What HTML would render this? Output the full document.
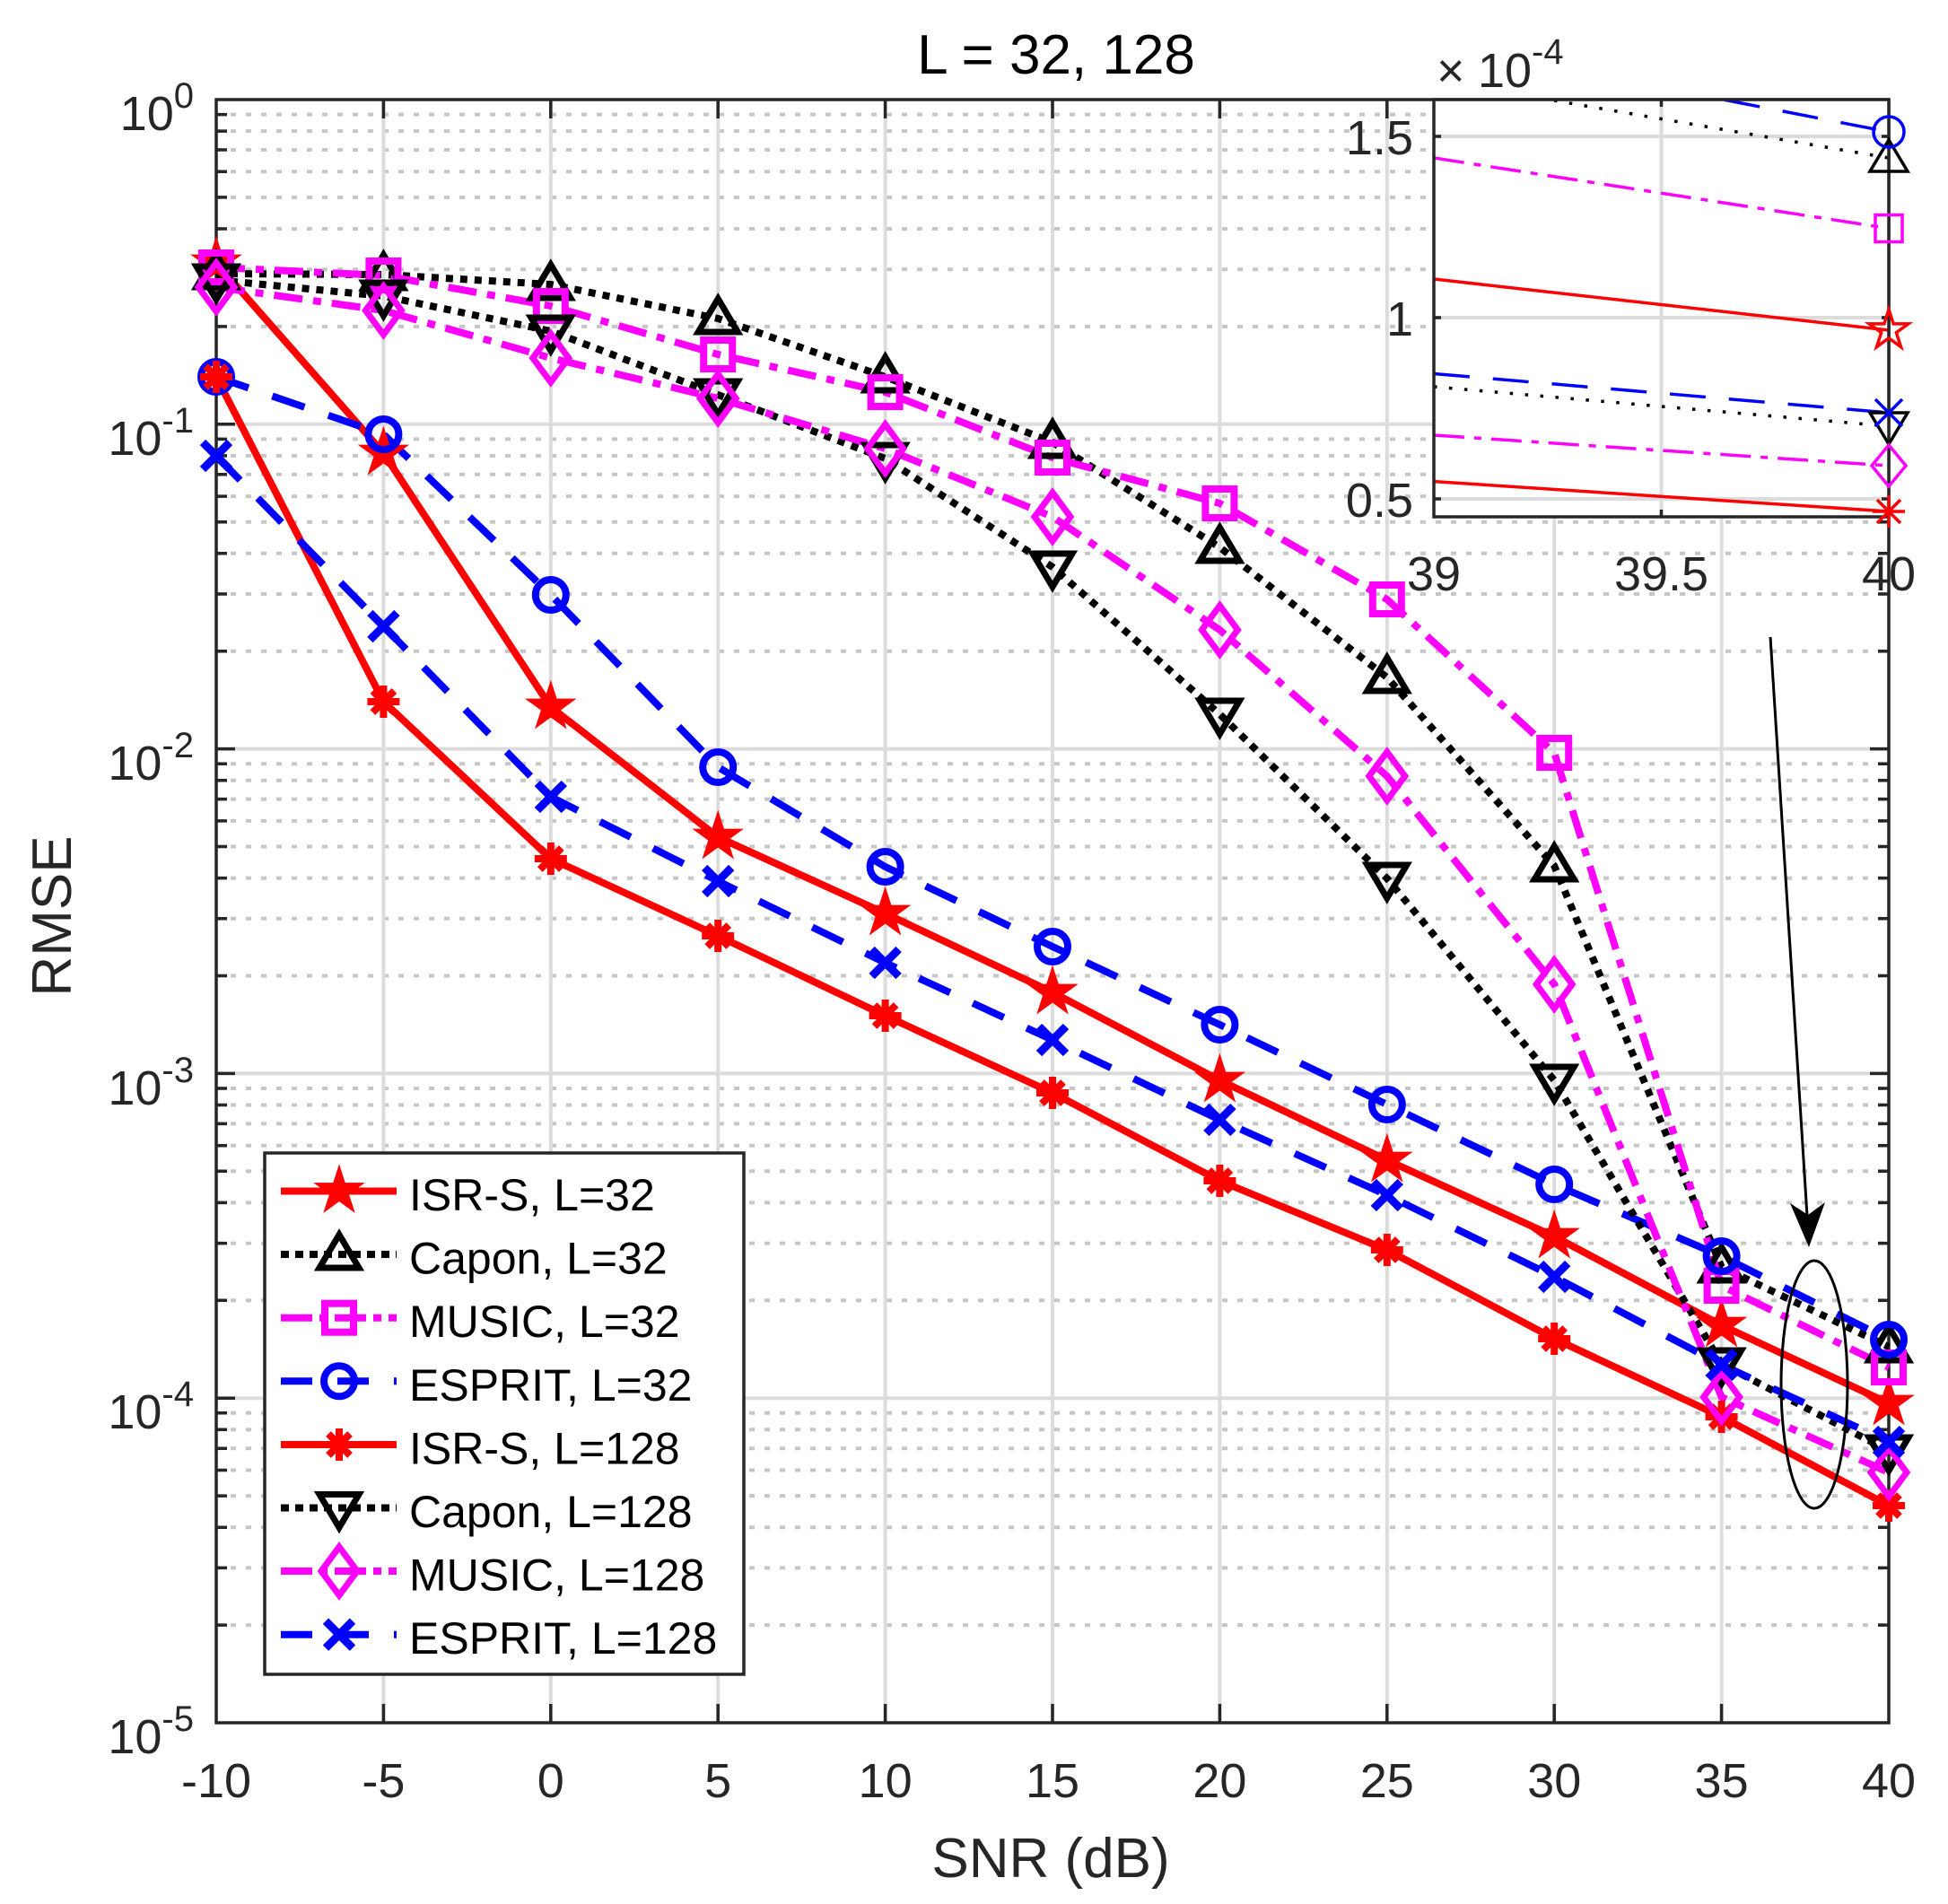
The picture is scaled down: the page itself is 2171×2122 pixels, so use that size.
<!DOCTYPE html>
<html><head><meta charset="utf-8"><style>
html,body{margin:0;padding:0;background:#fff;}
svg{display:block;}
text{font-family:"Liberation Sans",Arial,sans-serif;}
</style></head><body>
<svg width="2171" height="2122" viewBox="0 0 2171 2122" xmlns="http://www.w3.org/2000/svg">
<defs>
<g id="mstar"><polygon points="0,-27 6.06,-8.34 25.68,-8.34 9.8,3.19 15.87,21.84 0,10.31 -15.87,21.84 -9.8,3.19 -25.68,-8.34 -6.06,-8.34" fill="#ff0000" stroke="#ff0000" stroke-width="2"/></g>
<g id="mtriu"><polygon points="0,-22 -22,15 22,15" fill="none" stroke="#000" stroke-width="7"/></g>
<g id="mtrid"><polygon points="0,22 -22,-15 22,-15" fill="none" stroke="#000" stroke-width="7"/></g>
<g id="msq"><rect x="-16" y="-16" width="32" height="32" fill="none" stroke="#ff00ff" stroke-width="8"/></g>
<g id="mcir"><circle r="17" fill="none" stroke="#0000ff" stroke-width="8"/></g>
<g id="mast" stroke="#ff0000" stroke-width="8"><line x1="0" y1="-18" x2="0" y2="18"/><line x1="-18" y1="0" x2="18" y2="0"/><line x1="-12" y1="-12" x2="12" y2="12"/><line x1="-12" y1="12" x2="12" y2="-12"/></g>
<g id="mdia"><polygon points="0,-27 20,0 0,27 -20,0" fill="none" stroke="#ff00ff" stroke-width="7"/></g>
<g id="mx" stroke="#0000ff" stroke-width="9"><line x1="-15" y1="-15" x2="15" y2="15"/><line x1="-15" y1="15" x2="15" y2="-15"/></g>

<g id="istar"><polygon points="0,-23 5.16,-7.11 21.87,-7.11 8.35,2.72 13.52,18.61 0,8.78 -13.52,18.61 -8.35,2.72 -21.87,-7.11 -5.16,-7.11" fill="none" stroke="#ff0000" stroke-width="3.5"/></g>
<g id="itriu"><polygon points="0,-20 -21,15 21,15" fill="none" stroke="#000" stroke-width="3.5"/></g>
<g id="itrid"><polygon points="0,20 -21,-15 21,-15" fill="none" stroke="#000" stroke-width="3.5"/></g>
<g id="isq"><rect x="-15" y="-15" width="30" height="30" fill="none" stroke="#ff00ff" stroke-width="3.5"/></g>
<g id="icir"><circle r="17" fill="none" stroke="#0000ff" stroke-width="3.5"/></g>
<g id="iast" stroke="#ff0000" stroke-width="3.5"><line x1="0" y1="-18" x2="0" y2="18"/><line x1="-18" y1="0" x2="18" y2="0"/><line x1="-13" y1="-13" x2="13" y2="13"/><line x1="-13" y1="13" x2="13" y2="-13"/></g>
<g id="idia"><polygon points="0,-23 19,0 0,23 -19,0" fill="none" stroke="#ff00ff" stroke-width="3.5"/></g>
<g id="ix" stroke="#0000ff" stroke-width="3.5"><line x1="-15" y1="-15" x2="15" y2="15"/><line x1="-15" y1="15" x2="15" y2="-15"/></g>
<clipPath id="insetclip"><rect x="1598" y="111" width="507" height="465"/></clipPath>
</defs>

<rect width="2171" height="2122" fill="#fff"/>

<!-- minor grid -->
<g stroke="#c6c6c6" stroke-width="4" stroke-dasharray="6 11" stroke-dashoffset="1" fill="none">
<path d="M241 127.6H2105M241 146.1H2105M241 167H2105M241 191.3H2105M241 219.9H2105M241 255H2105M241 300.2H2105M241 363.9H2105
M241 489.4H2105M241 507.9H2105M241 528.8H2105M241 553.1H2105M241 581.7H2105M241 616.8H2105M241 662H2105M241 725.7H2105
M241 851.2H2105M241 869.7H2105M241 890.6H2105M241 914.9H2105M241 943.5H2105M241 978.6H2105M241 1023.8H2105M241 1087.5H2105
M241 1213H2105M241 1231.5H2105M241 1252.4H2105M241 1276.7H2105M241 1305.3H2105M241 1340.4H2105M241 1385.6H2105M241 1449.3H2105
M241 1574.8H2105M241 1593.3H2105M241 1614.2H2105M241 1638.5H2105M241 1667.1H2105M241 1702.2H2105M241 1747.4H2105M241 1811.1H2105"/>
</g>
<!-- major grid -->
<g stroke="#dcdcdc" stroke-width="4" fill="none">
<path d="M427.4 111V1920M613.8 111V1920M800.2 111V1920M986.6 111V1920M1173 111V1920M1359.4 111V1920M1545.8 111V1920M1732.2 111V1920M1918.6 111V1920"/>
<path d="M241 472.8H2105M241 834.6H2105M241 1196.4H2105M241 1558.2H2105"/>
</g>

<!-- axes box & ticks -->
<g stroke="#262626" stroke-width="3.5" fill="none">
<rect x="241" y="111" width="1864" height="1809"/>
<path d="M241 472.8h21M241 834.6h21M241 1196.4h21M241 1558.2h21M2105 472.8h-21M2105 834.6h-21M2105 1196.4h-21M2105 1558.2h-21"/>
<path d="M427.4 1920v-21M613.8 1920v-21M800.2 1920v-21M986.6 1920v-21M1173 1920v-21M1359.4 1920v-21M1545.8 1920v-21M1732.2 1920v-21M1918.6 1920v-21
M427.4 111v21M613.8 111v21M800.2 111v21M986.6 111v21M1173 111v21M1359.4 111v21M1545.8 111v21M1732.2 111v21M1918.6 111v21"/>
<path d="M241 127.6h12M241 146.1h12M241 167h12M241 191.3h12M241 219.9h12M241 255h12M241 300.2h12M241 363.9h12
M241 489.4h12M241 507.9h12M241 528.8h12M241 553.1h12M241 581.7h12M241 616.8h12M241 662h12M241 725.7h12
M241 851.2h12M241 869.7h12M241 890.6h12M241 914.9h12M241 943.5h12M241 978.6h12M241 1023.8h12M241 1087.5h12
M241 1213h12M241 1231.5h12M241 1252.4h12M241 1276.7h12M241 1305.3h12M241 1340.4h12M241 1385.6h12M241 1449.3h12
M241 1574.8h12M241 1593.3h12M241 1614.2h12M241 1638.5h12M241 1667.1h12M241 1702.2h12M241 1747.4h12M241 1811.1h12
M2105 1213h-12M2105 1231.5h-12M2105 1252.4h-12M2105 1276.7h-12M2105 1305.3h-12M2105 1340.4h-12M2105 1385.6h-12M2105 1449.3h-12
M2105 1574.8h-12M2105 1593.3h-12M2105 1614.2h-12M2105 1638.5h-12M2105 1667.1h-12M2105 1702.2h-12M2105 1747.4h-12M2105 1811.1h-12
M2105 851.2h-12M2105 869.7h-12M2105 890.6h-12M2105 914.9h-12M2105 943.5h-12M2105 978.6h-12M2105 1023.8h-12M2105 1087.5h-12
M2105 489.4h-12M2105 507.9h-12M2105 528.8h-12M2105 553.1h-12M2105 581.7h-12M2105 616.8h-12M2105 662h-12M2105 725.7h-12"/>
</g>

<!-- series lines -->
<g fill="none" stroke-width="8" stroke-linejoin="miter">
<polyline stroke="#ff0000" points="241,293 427.4,505 613.8,788 800.2,933 986.6,1018 1173,1106 1359.4,1204 1545.8,1293 1732.2,1378 1918.6,1477 2105,1564"/>
<polyline stroke="#000" stroke-dasharray="8 8" points="241,305 427.4,306 613.8,317 800.2,355 986.6,420 1173,493 1359.4,610 1545.8,755 1732.2,965 1918.6,1412 2105,1501"/>
<polyline stroke="#ff00ff" stroke-dasharray="32 12 9 12" points="241,298 427.4,307 613.8,341 800.2,395 986.6,437 1173,510 1359.4,561 1545.8,668 1732.2,839 1918.6,1433 2105,1524"/>
<polyline stroke="#0000ff" stroke-dasharray="38 28" points="241,420 427.4,484 613.8,663 800.2,855 986.6,966 1173,1055 1359.4,1142 1545.8,1231 1732.2,1320 1918.6,1400 2105,1493"/>
<polyline stroke="#ff0000" points="241,420 427.4,782 613.8,957 800.2,1043 986.6,1132 1173,1218 1359.4,1316 1545.8,1393 1732.2,1492 1918.6,1579 2105,1678"/>
<polyline stroke="#000" stroke-dasharray="8 8" points="241,312 427.4,330 613.8,369 800.2,440 986.6,511 1173,632 1359.4,796 1545.8,979 1732.2,1204 1918.6,1520 2105,1617"/>
<polyline stroke="#ff00ff" stroke-dasharray="32 12 9 12" points="241,320 427.4,346 613.8,399 800.2,444 986.6,500 1173,576 1359.4,702 1545.8,865 1732.2,1097 1918.6,1557 2105,1641"/>
<polyline stroke="#0000ff" stroke-dasharray="38 28" points="241,508 427.4,698 613.8,888 800.2,982 986.6,1073 1173,1159 1359.4,1248 1545.8,1332 1732.2,1423 1918.6,1521 2105,1607"/>
</g>

<!-- markers -->
<g>
<use href="#mstar" x="241" y="293"/><use href="#mstar" x="427.4" y="505"/><use href="#mstar" x="613.8" y="788"/><use href="#mstar" x="800.2" y="933"/><use href="#mstar" x="986.6" y="1018"/><use href="#mstar" x="1173" y="1106"/><use href="#mstar" x="1359.4" y="1204"/><use href="#mstar" x="1545.8" y="1293"/><use href="#mstar" x="1732.2" y="1378"/><use href="#mstar" x="1918.6" y="1477"/><use href="#mstar" x="2105" y="1564"/>
<use href="#mtriu" x="241" y="305"/><use href="#mtriu" x="427.4" y="306"/><use href="#mtriu" x="613.8" y="317"/><use href="#mtriu" x="800.2" y="355"/><use href="#mtriu" x="986.6" y="420"/><use href="#mtriu" x="1173" y="493"/><use href="#mtriu" x="1359.4" y="610"/><use href="#mtriu" x="1545.8" y="755"/><use href="#mtriu" x="1732.2" y="965"/><use href="#mtriu" x="1918.6" y="1412"/><use href="#mtriu" x="2105" y="1501"/>
<use href="#msq" x="241" y="298"/><use href="#msq" x="427.4" y="307"/><use href="#msq" x="613.8" y="341"/><use href="#msq" x="800.2" y="395"/><use href="#msq" x="986.6" y="437"/><use href="#msq" x="1173" y="510"/><use href="#msq" x="1359.4" y="561"/><use href="#msq" x="1545.8" y="668"/><use href="#msq" x="1732.2" y="839"/><use href="#msq" x="1918.6" y="1433"/><use href="#msq" x="2105" y="1524"/>
<use href="#mcir" x="241" y="420"/><use href="#mcir" x="427.4" y="484"/><use href="#mcir" x="613.8" y="663"/><use href="#mcir" x="800.2" y="855"/><use href="#mcir" x="986.6" y="966"/><use href="#mcir" x="1173" y="1055"/><use href="#mcir" x="1359.4" y="1142"/><use href="#mcir" x="1545.8" y="1231"/><use href="#mcir" x="1732.2" y="1320"/><use href="#mcir" x="1918.6" y="1400"/><use href="#mcir" x="2105" y="1493"/>
<use href="#mast" x="241" y="420"/><use href="#mast" x="427.4" y="782"/><use href="#mast" x="613.8" y="957"/><use href="#mast" x="800.2" y="1043"/><use href="#mast" x="986.6" y="1132"/><use href="#mast" x="1173" y="1218"/><use href="#mast" x="1359.4" y="1316"/><use href="#mast" x="1545.8" y="1393"/><use href="#mast" x="1732.2" y="1492"/><use href="#mast" x="1918.6" y="1579"/><use href="#mast" x="2105" y="1678"/>
<use href="#mtrid" x="241" y="312"/><use href="#mtrid" x="427.4" y="330"/><use href="#mtrid" x="613.8" y="369"/><use href="#mtrid" x="800.2" y="440"/><use href="#mtrid" x="986.6" y="511"/><use href="#mtrid" x="1173" y="632"/><use href="#mtrid" x="1359.4" y="796"/><use href="#mtrid" x="1545.8" y="979"/><use href="#mtrid" x="1732.2" y="1204"/><use href="#mtrid" x="1918.6" y="1520"/><use href="#mtrid" x="2105" y="1617"/>
<use href="#mdia" x="241" y="320"/><use href="#mdia" x="427.4" y="346"/><use href="#mdia" x="613.8" y="399"/><use href="#mdia" x="800.2" y="444"/><use href="#mdia" x="986.6" y="500"/><use href="#mdia" x="1173" y="576"/><use href="#mdia" x="1359.4" y="702"/><use href="#mdia" x="1545.8" y="865"/><use href="#mdia" x="1732.2" y="1097"/><use href="#mdia" x="1918.6" y="1557"/><use href="#mdia" x="2105" y="1641"/>
<use href="#mx" x="241" y="508"/><use href="#mx" x="427.4" y="698"/><use href="#mx" x="613.8" y="888"/><use href="#mx" x="800.2" y="982"/><use href="#mx" x="986.6" y="1073"/><use href="#mx" x="1173" y="1159"/><use href="#mx" x="1359.4" y="1248"/><use href="#mx" x="1545.8" y="1332"/><use href="#mx" x="1732.2" y="1423"/><use href="#mx" x="1918.6" y="1521"/><use href="#mx" x="2105" y="1607"/>
</g>

<!-- tick labels -->
<g font-size="54" fill="#262626" text-anchor="middle">
<text x="241" y="2003">-10</text><text x="427.4" y="2003">-5</text><text x="613.8" y="2003">0</text><text x="800.2" y="2003">5</text><text x="986.6" y="2003">10</text><text x="1173" y="2003">15</text><text x="1359.4" y="2003">20</text><text x="1545.8" y="2003">25</text><text x="1732.2" y="2003">30</text><text x="1918.6" y="2003">35</text><text x="2105" y="2003">40</text>
</g>
<g font-size="54" fill="#262626" text-anchor="end">
<text x="216" y="145">10<tspan font-size="40" dy="-25">0</tspan></text>
<text x="216" y="507">10<tspan font-size="40" dy="-25">-1</tspan></text>
<text x="216" y="869">10<tspan font-size="40" dy="-25">-2</tspan></text>
<text x="216" y="1231">10<tspan font-size="40" dy="-25">-3</tspan></text>
<text x="216" y="1592">10<tspan font-size="40" dy="-25">-4</tspan></text>
<text x="216" y="1954">10<tspan font-size="40" dy="-25">-5</tspan></text>
</g>

<!-- labels & title -->
<text x="1177" y="82" font-size="62" text-anchor="middle" fill="#000">L = 32, 128</text>
<text x="1171" y="2092" font-size="62" text-anchor="middle" fill="#262626">SNR (dB)</text>
<text transform="translate(79,1021) rotate(-90)" font-size="62" text-anchor="middle" fill="#262626">RMSE</text>

<!-- arrow & ellipse -->
<line x1="1973" y1="710" x2="2014" y2="1355" stroke="#000" stroke-width="3"/>
<polygon points="2016,1390 1995,1341 2015,1354 2034,1340" fill="#000"/>
<ellipse cx="2022" cy="1543" rx="37" ry="138" fill="none" stroke="#000" stroke-width="3"/>

<!-- legend -->
<rect x="295" y="1285" width="534" height="581" fill="#fff" stroke="#262626" stroke-width="3.5"/>
<g fill="none" stroke-width="8">
<line x1="313" y1="1327.5" x2="442" y2="1327.5" stroke="#ff0000"/>
<line x1="313" y1="1398" x2="442" y2="1398" stroke="#000" stroke-dasharray="9 7"/>
<line x1="313" y1="1468.7" x2="442" y2="1468.7" stroke="#ff00ff" stroke-dasharray="35 8 9 8"/>
<line x1="313" y1="1539.3" x2="442" y2="1539.3" stroke="#0000ff" stroke-dasharray="35 28"/>
<line x1="313" y1="1610" x2="442" y2="1610" stroke="#ff0000"/>
<line x1="313" y1="1680.5" x2="442" y2="1680.5" stroke="#000" stroke-dasharray="9 7"/>
<line x1="313" y1="1751" x2="442" y2="1751" stroke="#ff00ff" stroke-dasharray="35 8 9 8"/>
<line x1="313" y1="1821.7" x2="442" y2="1821.7" stroke="#0000ff" stroke-dasharray="35 28"/>
</g>
<use href="#mstar" x="378" y="1327.5"/>
<use href="#mtriu" x="378" y="1398"/>
<use href="#msq" x="378" y="1468.7"/>
<use href="#mcir" x="378" y="1539.3"/>
<use href="#mast" x="378" y="1610"/>
<use href="#mtrid" x="378" y="1680.5"/>
<use href="#mdia" x="378" y="1751"/>
<use href="#mx" x="378" y="1821.7"/>
<g font-size="50" fill="#000">
<text x="456" y="1349">ISR-S, L=32</text>
<text x="456" y="1419.5">Capon, L=32</text>
<text x="456" y="1490.2">MUSIC, L=32</text>
<text x="456" y="1560.8">ESPRIT, L=32</text>
<text x="456" y="1631.5">ISR-S, L=128</text>
<text x="456" y="1702">Capon, L=128</text>
<text x="456" y="1772.5">MUSIC, L=128</text>
<text x="456" y="1843.2">ESPRIT, L=128</text>
</g>

<!-- inset -->
<rect x="1598" y="111" width="507" height="465" fill="#fff"/>
<g stroke="#dcdcdc" stroke-width="4">
<path d="M1598 152H2105M1598 354H2105M1598 556H2105M1851.5 111V576"/>
</g>
<g clip-path="url(#insetclip)" fill="none" stroke-width="3.5">
<line x1="1598" y1="311" x2="2105" y2="368" stroke="#ff0000"/>
<line x1="1598" y1="89" x2="2105" y2="176" stroke="#000" stroke-dasharray="3.5 13.5"/>
<line x1="1598" y1="176" x2="2105" y2="254.5" stroke="#ff00ff" stroke-dasharray="34 11 8 11"/>
<line x1="1598" y1="48" x2="2105" y2="147" stroke="#0000ff" stroke-dasharray="40 26"/>
<line x1="1598" y1="536.6" x2="2105" y2="570" stroke="#ff0000"/>
<line x1="1598" y1="431" x2="2105" y2="475" stroke="#000" stroke-dasharray="3.5 13.5"/>
<line x1="1598" y1="485" x2="2105" y2="519" stroke="#ff00ff" stroke-dasharray="34 11 8 11"/>
<line x1="1598" y1="416.5" x2="2105" y2="460" stroke="#0000ff" stroke-dasharray="40 26"/>
</g>
<g stroke="#262626" stroke-width="3.5" fill="none">
<rect x="1598" y="111" width="507" height="465"/>
<path d="M1598 152h8M1598 354h8M1598 556h8M2105 152h-8M2105 354h-8M2105 556h-8M1851.5 111v8M1851.5 576v-8"/>
</g>
<use href="#istar" x="2105" y="368"/>
<use href="#itriu" x="2105" y="176"/>
<use href="#isq" x="2105" y="254.5"/>
<use href="#icir" x="2105" y="147"/>
<use href="#iast" x="2105" y="570"/>
<use href="#itrid" x="2105" y="475"/>
<use href="#idia" x="2105" y="519"/>
<use href="#ix" x="2105" y="460"/>
<g font-size="54" fill="#262626" text-anchor="end">
<text x="1575" y="172">1.5</text>
<text x="1575" y="374">1</text>
<text x="1575" y="576">0.5</text>
</g>
<g font-size="54" fill="#262626" text-anchor="middle">
<text x="1598" y="658">39</text>
<text x="1851.5" y="658">39.5</text>
<text x="2105" y="658">40</text>
</g>
<g font-size="54" fill="#262626">
<text x="1601" y="97">×</text>
<text x="1647" y="97">10</text>
<text x="1707" y="71" font-size="40">-4</text>
</g>
</svg>
</body></html>
